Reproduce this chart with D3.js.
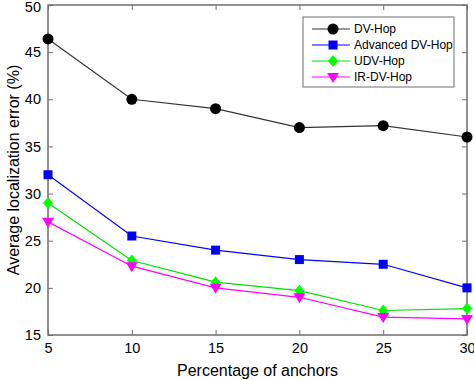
<!DOCTYPE html>
<html>
<head>
<meta charset="utf-8">
<script src="https://cdn.jsdelivr.net/npm/d3@7"></script>
<style>
body { margin: 0; background: #fff; }
text { font-family: "Liberation Sans", Arial, sans-serif; }
</style>
</head>
<body>
<svg id="viz" width="474" height="380"></svg>
<script>
// data
var anchors = [5, 10, 15, 20, 25, 30];
var dvHop = [46.4, 40.0, 39.0, 37.0, 37.2, 36.0];
var advDvHop = [32.0, 25.5, 24.0, 23.0, 22.5, 20.0];
var udvHop = [29.0, 22.9, 20.6, 19.7, 17.6, 17.8];
var irDvHop = [27.0, 22.3, 20.0, 19.0, 16.9, 16.7];
var yTicks = [15, 20, 25, 30, 35, 40, 45, 50];
var seriesNames = ["DV-Hop", "Advanced DV-Hop", "UDV-Hop", "IR-DV-Hop"];

var svg = d3.select("#viz"),
margin = { top: 5, right: 7, bottom: 45, left: 48 },
width = 474 - margin.left - margin.right,
height = 380 - margin.top - margin.bottom,
g = svg.append("g").attr("transform", "translate(" + margin.left + "," + margin.top + ")");

var x = d3.scaleLinear().domain([5, 30]).range([0, width]);
var y = d3.scaleLinear().domain([15, 50]).range([height, 0]);

var axisColor = "#6e6e6e";

// box with inward ticks on every side
function styleAxis(sel) {
    sel.select(".domain").remove();
    sel.selectAll(".tick line").attr("stroke", axisColor);
    sel.selectAll(".tick text").attr("fill", "#000").style("font-size", "14.5px");
}
g.append("g").attr("transform", "translate(0," + height + ")")
    .call(d3.axisBottom(x).tickValues(anchors).tickSize(-5).tickPadding(8))
    .call(styleAxis);
g.append("g")
    .call(d3.axisTop(x).tickValues(anchors).tickSize(-5).tickFormat(""))
    .call(styleAxis);
var yAxis = g.append("g")
    .call(d3.axisLeft(y).tickValues(yTicks).tickSize(-5).tickPadding(7))
    .call(styleAxis);
// keep the top label inside the picture
yAxis.selectAll(".tick text").filter(d => d == 50).attr("dy", "0.45em");
g.append("g").attr("transform", "translate(" + width + ",0)")
    .call(d3.axisRight(y).tickValues(yTicks).tickSize(-5).tickFormat(""))
    .call(styleAxis);
g.append("rect").attr("width", width).attr("height", height)
    .attr("fill", "none").attr("stroke", axisColor).attr("stroke-width", 1.5);

var series = [
    { name: seriesNames[0], values: dvHop, color: "#000000", line: "#333", shape: "circle" },
    { name: seriesNames[1], values: advDvHop, color: "#0000ff", line: "#0000ff", shape: "square" },
    { name: seriesNames[2], values: udvHop, color: "#00ff00", line: "#00e000", shape: "diamond" },
    { name: seriesNames[3], values: irDvHop, color: "#ff00ff", line: "#ff00ff", shape: "triangleDown" }
];

var line = d3.line().x((d, i) => x(anchors[i])).y(d => y(d));

function marker(sel, s) {
    if (s.shape == "circle") {
        sel.append("circle").attr("r", 5.5).attr("fill", s.color);
    } else if (s.shape == "square") {
        sel.append("rect").attr("x", -4.5).attr("y", -4.5).attr("width", 9).attr("height", 9).attr("fill", s.color);
    } else if (s.shape == "diamond") {
        sel.append("path").attr("d", "M0,-6L5,0L0,6L-5,0Z").attr("fill", s.color);
    } else {
        sel.append("path").attr("d", "M-6,-4L6,-4L0,6Z").attr("fill", s.color);
    }
}

series.forEach(function(s) {
    g.append("path").datum(s.values).attr("d", line)
        .attr("fill", "none").attr("stroke", s.line).attr("stroke-width", 1.2);
    s.values.forEach(function(v, i) {
        var m = g.append("g").attr("transform", "translate(" + x(anchors[i]) + "," + y(v) + ")");
        marker(m, s);
    });
});

// legend
var legend = svg.append("g").attr("transform", "translate(303,17)");
legend.append("rect").attr("width", 151).attr("height", 70)
    .attr("fill", "#fff").attr("stroke", axisColor).attr("stroke-width", 1);
series.forEach(function(s, i) {
    var row = legend.append("g").attr("transform", "translate(0," + (12 + i * 16) + ")");
    row.append("line").attr("x1", 9).attr("x2", 47).attr("y1", 0).attr("y2", 0)
        .attr("stroke", s.line).attr("stroke-width", 1.2);
    var m = row.append("g").attr("transform", "translate(30,0)");
    marker(m, s);
    row.append("text").attr("x", 51).attr("y", 0).attr("dy", ".35em")
        .style("font-size", "12px").text(s.name);
});

// axis titles
svg.append("text").attr("x", margin.left + width / 2).attr("y", 376)
    .attr("text-anchor", "middle").style("font-size", "16px").text("Percentage of anchors");
svg.append("text").attr("transform", "translate(19," + (margin.top + height / 2) + ") rotate(-90)")
    .attr("text-anchor", "middle").style("font-size", "16px").text("Average localization error (%)");
</script>
</body>
</html>
